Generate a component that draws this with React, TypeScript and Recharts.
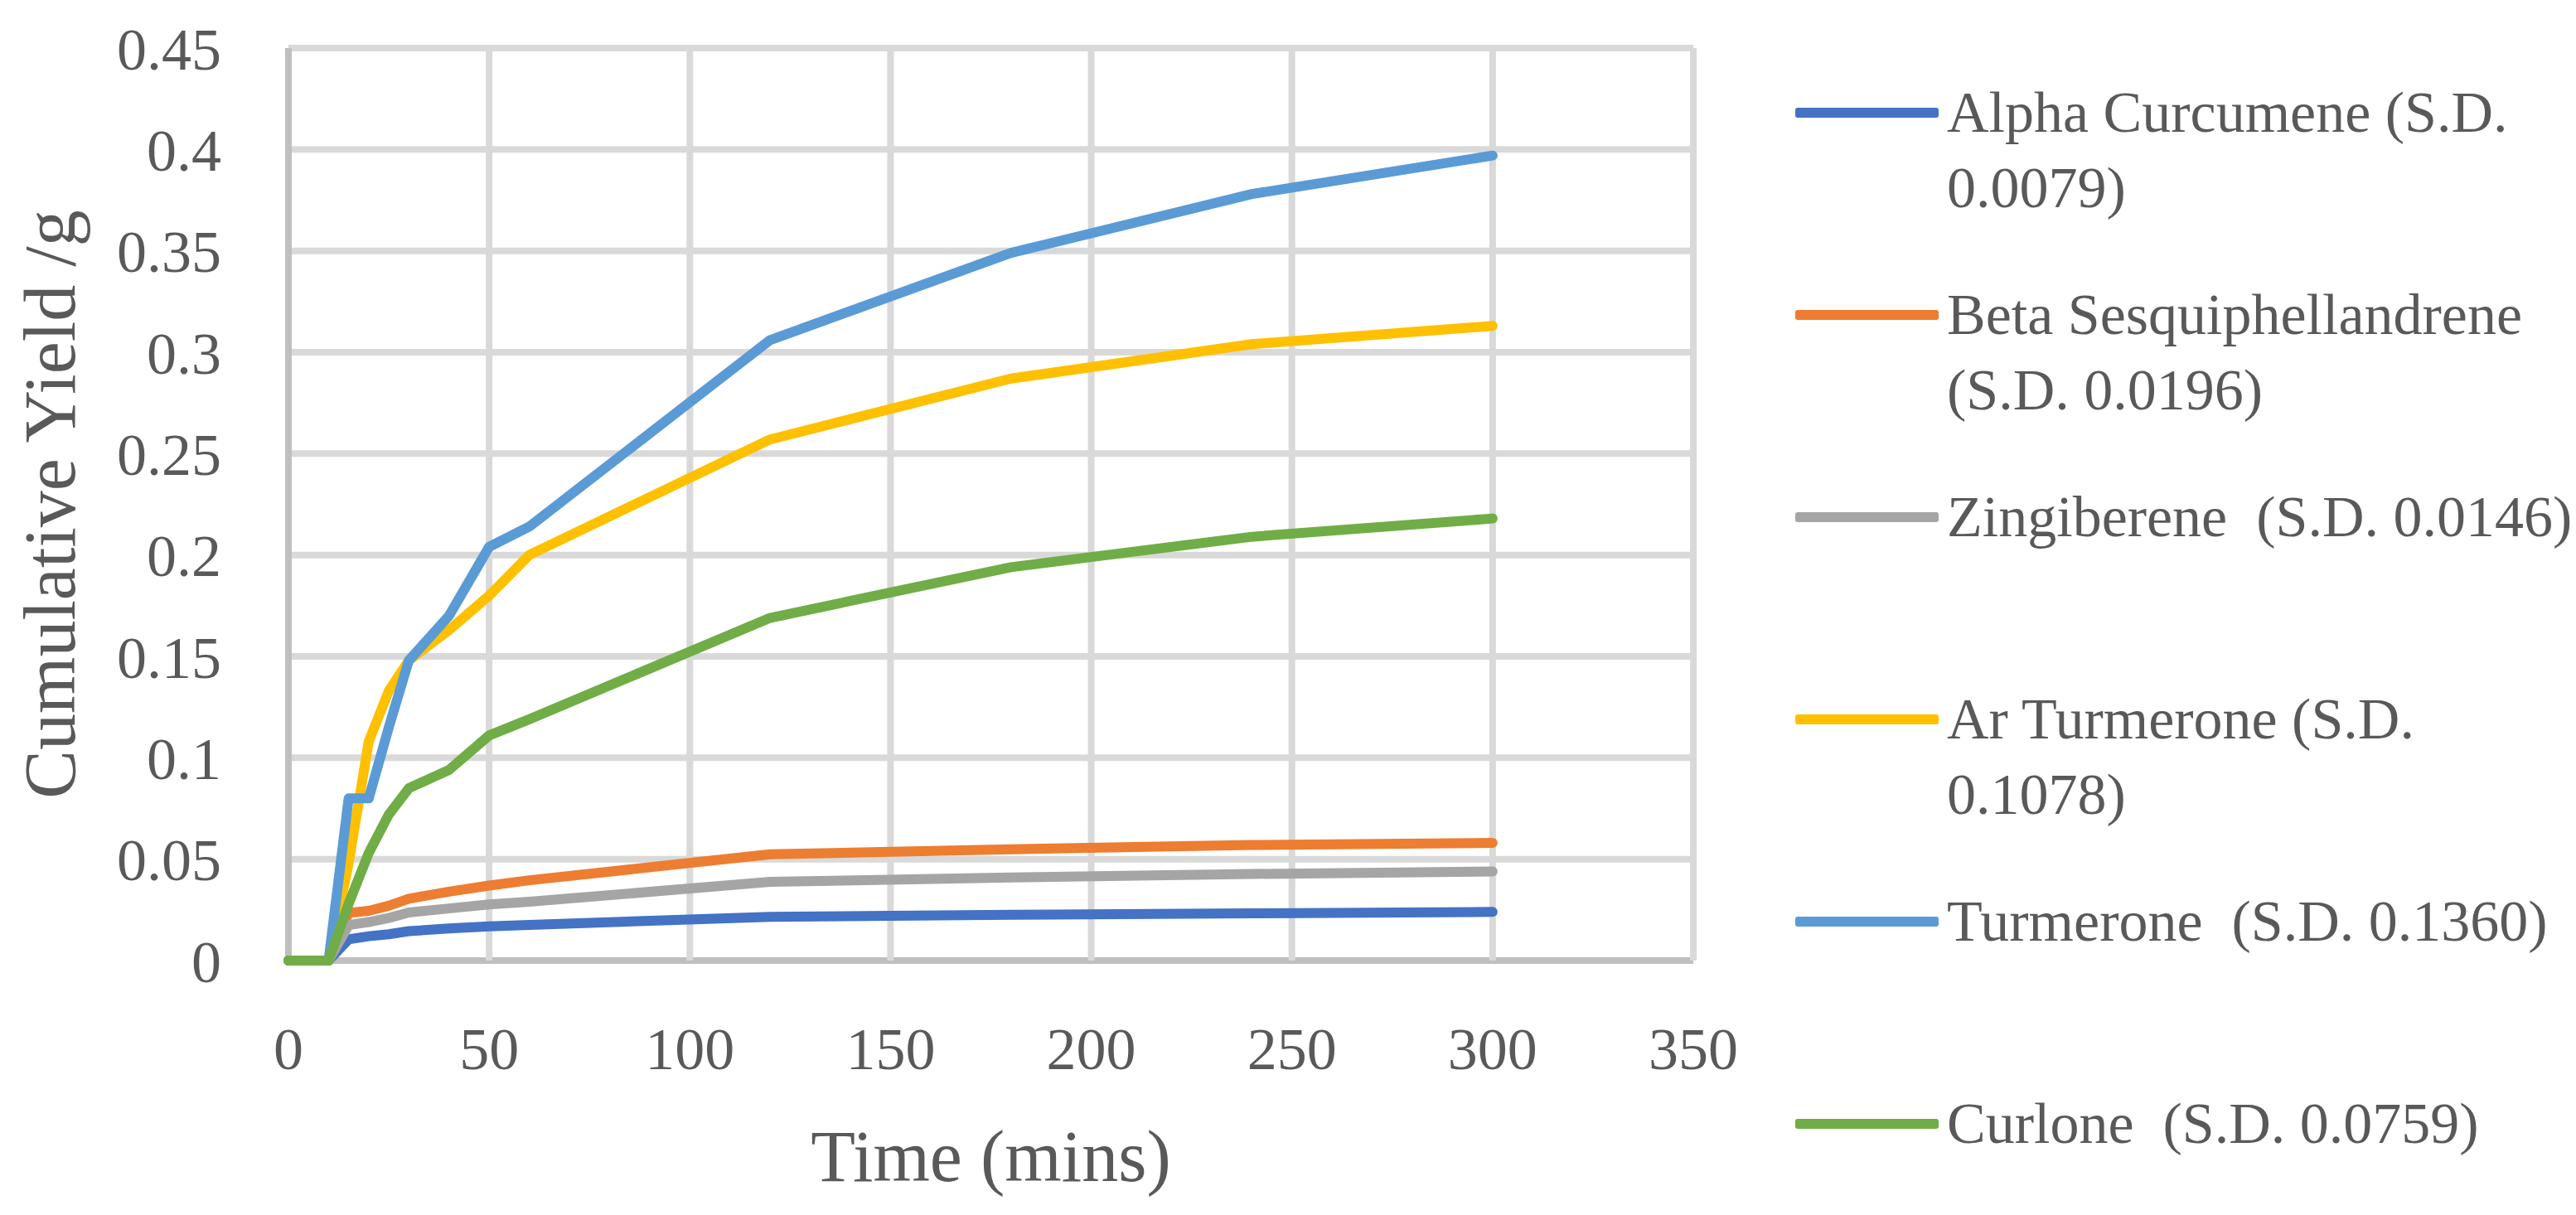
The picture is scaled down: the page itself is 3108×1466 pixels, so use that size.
import React from 'react';
import {CartesianGrid, Legend, Line, LineChart, XAxis, YAxis} from 'recharts';

// sampling times (mins)
const times = [0, 10, 15, 20, 25, 30, 40, 50, 60, 120, 180, 240, 300];

// cumulative yield (g) per compound
const alphaCurcumene = [0, 0, 0.0105, 0.012, 0.013, 0.0145, 0.0158, 0.0169, 0.0176, 0.0216, 0.0226, 0.0233, 0.024];
const betaSesquiphellandrene = [0, 0, 0.0235, 0.0245, 0.027, 0.0305, 0.034, 0.037, 0.0396, 0.0524, 0.0549, 0.057, 0.058];
const zingiberene = [0, 0, 0.0175, 0.019, 0.021, 0.0237, 0.0257, 0.0277, 0.029, 0.0388, 0.041, 0.0427, 0.0439];
const arTurmerone = [0, 0, 0.048, 0.108, 0.133, 0.148, 0.163, 0.18, 0.2, 0.257, 0.287, 0.304, 0.313];
const turmerone = [0, 0, 0.08, 0.08, 0.115, 0.148, 0.17, 0.204, 0.214, 0.306, 0.349, 0.378, 0.397];
const curlone = [0, 0, 0.028, 0.053, 0.072, 0.085, 0.094, 0.111, 0.119, 0.169, 0.194, 0.209, 0.218];

const xTicks = [0, 50, 100, 150, 200, 250, 300, 350];
const yTicks = [0, 0.05, 0.1, 0.15, 0.2, 0.25, 0.3, 0.35, 0.4, 0.45];

// legend labels, line breaks as in the original
const seriesKeys = ['alpha', 'beta', 'zingi', 'arTur', 'tur', 'curl'];
const seriesNames = [
    'Alpha Curcumene (S.D.\n0.0079)',
    'Beta Sesquiphellandrene\n(S.D. 0.0196)',
    'Zingiberene  (S.D. 0.0146)',
    'Ar Turmerone (S.D.\n0.1078)',
    'Turmerone  (S.D. 0.1360)',
    'Curlone  (S.D. 0.0759)'
];
const seriesColors = ['#4472C4', '#ED7D31', '#A5A5A5', '#FFC000', '#5B9BD5', '#70AD47'];
const seriesValues = [alphaCurcumene, betaSesquiphellandrene, zingiberene, arTurmerone, turmerone, curlone];

const data = times.map((t, i) => {
    const row: any = {time: t};
    seriesKeys.forEach((k, s) => {
        row[k] = seriesValues[s][i];
    });
    return row;
});

const FONT = '"Liberation Serif", "Times New Roman", serif';
const TEXT = '#595959';
const GRID = '#D9D9D9';
const AXIS = '#BFBFBF';

// grid lines, with the bottom / left one drawn in the darker axis colour
// (done here so the series sit on top of the axis lines, like in Excel)
const gridLine = (p: any, isAxis: boolean) => (
    <line key={p.key} x1={p.x1} y1={p.y1} x2={p.x2} y2={p.y2}
          stroke={isAxis ? AXIS : GRID} strokeWidth={8}/>
);
const horizontalLine = (p: any) =>
    gridLine(p, p.y != null && p.height != null ? p.y1 >= p.y + p.height - 1 : p.index === 0);
const verticalLine = (p: any) =>
    gridLine(p, p.x != null ? p.x1 <= p.x + 1 : p.index === 0);

const renderLegend = () => (
    <div style={{paddingTop: 90, paddingLeft: 6}}>
        {seriesNames.map((name, i) => (
            <div key={name} style={{display: 'flex', alignItems: 'flex-start', height: 244}}>
                <div style={{width: 173, height: 12, background: seriesColors[i], marginTop: 40, marginRight: 10, borderRadius: 3, flexShrink: 0}}/>
                <div style={{fontFamily: FONT, fontSize: 70, lineHeight: '91px', color: TEXT, whiteSpace: 'pre'}}>
                    {name}
                </div>
            </div>
        ))}
    </div>
);

export default function App() {
    return (
        <div style={{position: 'absolute', left: 0, top: 0, background: '#fff'}}>
            <LineChart width={3108} height={1466} data={data}
                       margin={{top: 58, right: 117, bottom: 0, left: 0}}>
                <CartesianGrid horizontal={horizontalLine} vertical={verticalLine}/>
                <XAxis dataKey="time" type="number" domain={[0, 350]} ticks={xTicks}
                       height={307} tickSize={0} tickMargin={80} axisLine={false}
                       tick={{fontFamily: FONT, fontSize: 72, fill: TEXT}}
                       label={{
                           content: (p: any) => (
                               <text x={p.viewBox.x + p.viewBox.width / 2} y={p.viewBox.y + 266}
                                     textAnchor="middle" fontFamily={FONT} fontSize={88} fill={TEXT}>
                                   Time (mins)
                               </text>
                           )
                       }}/>
                <YAxis type="number" domain={[0, 0.45]} ticks={yTicks} width={348}
                       tickSize={0} tickMargin={81} axisLine={false}
                       tick={{fontFamily: FONT, fontSize: 72, fill: TEXT}}
                       label={{
                           content: (p: any) => {
                               const cx = p.viewBox.x + 90;
                               const cy = p.viewBox.y + p.viewBox.height / 2;
                               return (
                                   <text x={cx} y={cy} transform={`rotate(-90, ${cx}, ${cy})`}
                                         textAnchor="middle" fontFamily={FONT} fontSize={88} fill={TEXT}>
                                       Cumulative Yield /g
                                   </text>
                               );
                           }
                       }}/>
                <Legend layout="vertical" align="right" verticalAlign="top" width={948}
                        wrapperStyle={{left: 2160, top: 0, width: 948, height: 1466}}
                        content={renderLegend}/>
                {seriesKeys.map((k, i) => (
                    <Line key={k} type="linear" dataKey={k} name={seriesNames[i]}
                          stroke={seriesColors[i]} strokeWidth={12}
                          strokeLinejoin="round" strokeLinecap="round"
                          dot={false} activeDot={false} isAnimationActive={false}/>
                ))}
            </LineChart>
        </div>
    );
}
